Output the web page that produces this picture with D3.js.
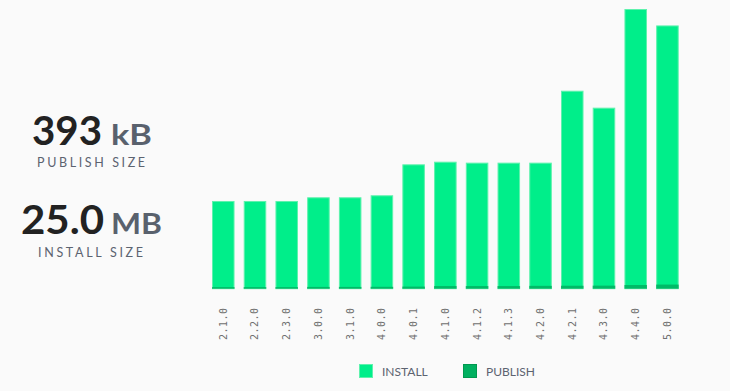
<!DOCTYPE html>
<html>
<head>
<meta charset="utf-8">
<script src="https://cdn.jsdelivr.net/npm/d3@7"></script>
<style>
  body { margin: 0; background: #fafafa; }
  svg { display: block; }
</style>
</head>
<body>
<svg id="chart" width="730" height="391"></svg>
<script>
// versions along the x axis
let versions = ["2.1.0", "2.2.0", "2.3.0", "3.0.0", "3.1.0", "4.0.0", "4.0.1", "4.1.0",
                "4.1.2", "4.1.3", "4.2.0", "4.2.1", "4.3.0", "4.4.0", "5.0.0"];
// sizes in MB
let installSizes = [8.33, 8.33, 8.33, 8.68, 8.68, 8.87, 11.81, 12.06, 11.97, 11.97, 11.97, 18.8, 17.19, 26.56, 25.0];
let publishSizes = [0.15, 0.15, 0.15, 0.17, 0.17, 0.18, 0.2, 0.25, 0.25, 0.25, 0.27, 0.28, 0.29, 0.35, 0.393];
let legendItems = ["INSTALL", "PUBLISH"];

let installColor = "#00ee8a";
let installStroke = "#5ef2ad";
let publishColor = "#00b060";
let publishStroke = "#00984f";

function drawChart() {
    var svg = d3.select("#chart");

    var x = d3.scaleBand()
        .domain(versions)
        .range([207.4, 683.3])
        .paddingInner(0.29)
        .paddingOuter(0.145);

    var y = d3.scaleLinear()
        .domain([0, d3.max(installSizes)])
        .range([288.7, 9]);

    let rows = versions.map((v, i) => ({ version: v, install: installSizes[i], publish: publishSizes[i] }));

    var bars = svg.append("g");

    bars.selectAll("rect.install")
        .data(rows)
        .enter().append("rect")
        .attr("class", "install")
        .attr("x", d => x(d.version) + 0.5)
        .attr("width", x.bandwidth() - 1)
        .attr("y", d => y(d.install) + 0.5)
        .attr("height", d => y(0) - y(d.install) - 0.5)
        .style("fill", installColor)
        .style("stroke", installStroke)
        .style("stroke-width", 1);

    bars.selectAll("rect.publish")
        .data(rows)
        .enter().append("rect")
        .attr("class", "publish")
        .attr("x", d => x(d.version))
        .attr("width", x.bandwidth())
        .attr("y", d => y(d.publish))
        .attr("height", d => y(0) - y(d.publish))
        .style("fill", publishColor)
        .style("opacity", 0.85);

    // version labels, rotated
    var xAxis = d3.axisBottom(x).tickSize(0).tickPadding(0);
    var axisG = svg.append("g")
        .attr("transform", "translate(0,298)")
        .call(xAxis);
    axisG.select(".domain").remove();
    axisG.selectAll("text")
        .attr("transform", "rotate(-90)")
        .attr("x", -9.5)
        .attr("y", 0)
        .attr("dy", "0.35em")
        .style("text-anchor", "end")
        .style("font-family", "'DejaVu Sans Mono', monospace")
        .style("font-size", "10px")
        .style("letter-spacing", "0.5px")
        .style("fill", "#707070");

    // legend
    let legendX = d3.scaleOrdinal().domain(legendItems).range([359, 463]);
    let legendFill = d3.scaleOrdinal().domain(legendItems).range([installColor, publishColor]);
    let legendStroke = d3.scaleOrdinal().domain(legendItems).range([installStroke, publishStroke]);
    var legend = svg.append("g");
    legendItems.forEach(function(item) {
        legend.append("rect")
            .attr("x", legendX(item) + 0.5)
            .attr("y", 364.5)
            .attr("width", 13)
            .attr("height", 13)
            .style("fill", legendFill(item))
            .style("stroke", legendStroke(item));
        legend.append("text")
            .attr("x", legendX(item) + 23)
            .attr("y", 376)
            .text(item)
            .style("font-family", "Lato, sans-serif")
            .style("font-size", "12px")
            .style("fill", "#5c6370");
    });

    // summary on the left
    drawStat(svg, { num: "393", numX: 32, numW: 70, unit: "kB", unitX: 111, unitW: 41,
                    base: 145, label: "PUBLISH SIZE", labelX: 37, labelW: 108, labelBase: 166.5 });
    drawStat(svg, { num: "25.0", numX: 21, numW: 83, unit: "MB", unitX: 111, unitW: 51,
                    base: 234, label: "INSTALL SIZE", labelX: 38, labelW: 105, labelBase: 257 });
}

function drawStat(svg, s) {
    svg.append("text")
        .attr("x", s.numX)
        .attr("y", s.base)
        .attr("textLength", s.numW)
        .attr("lengthAdjust", "spacingAndGlyphs")
        .style("font-family", "Lato, sans-serif")
        .style("font-weight", "bold")
        .style("font-size", "40px")
        .style("fill", "#222")
        .text(s.num);

    svg.append("text")
        .attr("x", s.unitX)
        .attr("y", s.base)
        .attr("textLength", s.unitW)
        .attr("lengthAdjust", "spacingAndGlyphs")
        .style("font-family", "Lato, sans-serif")
        .style("font-weight", "bold")
        .style("font-size", "29px")
        .style("fill", "#59616d")
        .text(s.unit);

    svg.append("text")
        .attr("x", s.labelX)
        .attr("y", s.labelBase)
        .attr("textLength", s.labelW)
        .attr("lengthAdjust", "spacing")
        .style("font-family", "Lato, sans-serif")
        .style("font-size", "12.5px")
        .style("fill", "#5c6370")
        .text(s.label);
}

drawChart();
</script>
</body>
</html>
